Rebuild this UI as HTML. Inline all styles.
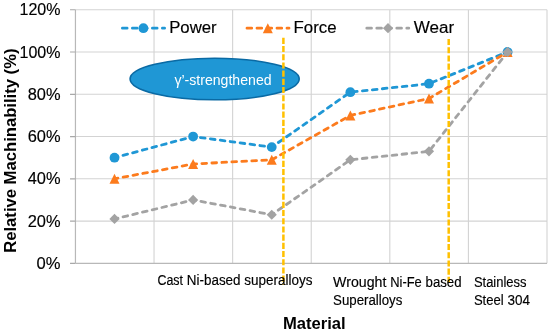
<!DOCTYPE html>
<html lang="en"><head><meta charset="utf-8"><title>Relative Machinability</title>
<style>html,body{margin:0;padding:0;background:#fff}svg{display:block}text{font-family:"Liberation Sans",sans-serif;fill:#000}.c{font-size:13.8px;stroke:#000;stroke-width:.15px}.w{font-size:14px;fill:#fff}.b{font-weight:bold;font-size:16px}.t{font-size:16px;stroke:#000;stroke-width:.15px}</style></head><body>
<svg width="550" height="332" viewBox="0 0 550 332">
<rect width="550" height="332" fill="#fff"/>
<path d="M75.45 221.08H547.0M75.45 178.82H547.0M75.45 136.55H547.0M75.45 94.28H547.0M75.45 52.02H547.0M75.45 9.75H547.0M154.04 9.75V263.35M232.63 9.75V263.35M311.23 9.75V263.35M389.82 9.75V263.35M468.41 9.75V263.35M547.00 9.75V263.35" stroke="#d3d3d3" stroke-width="1.1" fill="none"/>
<path d="M75.45 9.75V263.35M75.45 263.35H547.0" stroke="#b8b8b8" stroke-width="1.2" fill="none"/>
<path d="M70.05 263.35H75.45M70.05 221.08H75.45M70.05 178.82H75.45M70.05 136.55H75.45M70.05 94.28H75.45M70.05 52.02H75.45M70.05 9.75H75.45" stroke="#a8a8a8" stroke-width="1.2" fill="none"/>
<text class="t" x="36.57" y="268.90" textLength="23.93" lengthAdjust="spacingAndGlyphs">0%</text>
<text class="t" x="27.67" y="226.63" textLength="32.83" lengthAdjust="spacingAndGlyphs">20%</text>
<text class="t" x="27.67" y="184.37" textLength="32.83" lengthAdjust="spacingAndGlyphs">40%</text>
<text class="t" x="27.67" y="142.10" textLength="32.83" lengthAdjust="spacingAndGlyphs">60%</text>
<text class="t" x="27.67" y="99.83" textLength="32.83" lengthAdjust="spacingAndGlyphs">80%</text>
<text class="t" x="19.57" y="57.57">100%</text>
<text class="t" x="19.57" y="15.30">120%</text>
<ellipse cx="214.65" cy="79" rx="84.55" ry="20.8" fill="#1f97d5" stroke="#0a6aa4" stroke-width="1.6"/>
<text class="w" x="174.4" y="85" textLength="97.2" lengthAdjust="spacingAndGlyphs">γ’-strengthened</text>
<polyline points="114.50,157.68 193.12,136.55 271.74,147.12 350.36,92.17 428.98,83.72 507.60,52.02" fill="none" stroke="#1f97d5" stroke-width="2.8" stroke-dasharray="4.7 5.3" stroke-linecap="round" stroke-dashoffset="1.2" stroke-linejoin="round"/>
<circle cx="114.50" cy="157.68" r="4.9" fill="#1f97d5"/>
<circle cx="193.12" cy="136.55" r="4.9" fill="#1f97d5"/>
<circle cx="271.74" cy="147.12" r="4.9" fill="#1f97d5"/>
<circle cx="350.36" cy="92.17" r="4.9" fill="#1f97d5"/>
<circle cx="428.98" cy="83.72" r="4.9" fill="#1f97d5"/>
<circle cx="507.60" cy="52.02" r="4.9" fill="#1f97d5"/>
<polyline points="114.50,178.82 193.12,164.02 271.74,159.80 350.36,115.42 428.98,98.51 507.60,52.02" fill="none" stroke="#fc7b1d" stroke-width="2.8" stroke-dasharray="4.7 5.3" stroke-linecap="round" stroke-dashoffset="1.2" stroke-linejoin="round"/>
<path d="M114.50 173.82L119.50 183.82H109.50Z" fill="#fc7b1d"/>
<path d="M193.12 159.02L198.12 169.02H188.12Z" fill="#fc7b1d"/>
<path d="M271.74 154.80L276.74 164.80H266.74Z" fill="#fc7b1d"/>
<path d="M350.36 110.42L355.36 120.42H345.36Z" fill="#fc7b1d"/>
<path d="M428.98 93.51L433.98 103.51H423.98Z" fill="#fc7b1d"/>
<path d="M507.60 47.02L512.60 57.02H502.60Z" fill="#fc7b1d"/>
<polyline points="114.50,218.97 193.12,199.95 271.74,214.74 350.36,159.80 428.98,151.34 507.60,52.02" fill="none" stroke="#a3a3a3" stroke-width="2.8" stroke-dasharray="4.7 5.3" stroke-linecap="round" stroke-dashoffset="1.2" stroke-linejoin="round"/>
<path d="M114.50 213.87L119.60 218.97L114.50 224.07L109.40 218.97Z" fill="#a3a3a3"/>
<path d="M193.12 194.85L198.22 199.95L193.12 205.05L188.02 199.95Z" fill="#a3a3a3"/>
<path d="M271.74 209.64L276.84 214.74L271.74 219.84L266.64 214.74Z" fill="#a3a3a3"/>
<path d="M350.36 154.70L355.46 159.80L350.36 164.90L345.26 159.80Z" fill="#a3a3a3"/>
<path d="M428.98 146.24L434.08 151.34L428.98 156.44L423.88 151.34Z" fill="#a3a3a3"/>
<path d="M507.60 46.92L512.70 52.02L507.60 57.12L502.50 52.02Z" fill="#a3a3a3"/>
<path d="M283.4 37.8V284.8" stroke="#ffc000" stroke-width="2.5" stroke-dasharray="6.1 2.1" fill="none"/>
<path d="M448.7 39V283.8" stroke="#ffc000" stroke-width="2.5" stroke-dasharray="6.1 2.1" fill="none"/>
<path d="M122.4 28.2H164.6" stroke="#1f97d5" stroke-width="2.8" stroke-dasharray="4.7 5.3" stroke-linecap="round" fill="none"/>
<circle cx="143.40" cy="28.20" r="4.9" fill="#1f97d5"/>
<text class="t" x="169.2" y="33.3" textLength="47.5" lengthAdjust="spacingAndGlyphs">Power</text>
<path d="M247.0 28.2H289.0" stroke="#fc7b1d" stroke-width="2.8" stroke-dasharray="4.7 5.3" stroke-linecap="round" fill="none"/>
<path d="M267.80 23.20L272.80 33.20H262.80Z" fill="#fc7b1d"/>
<text class="t" x="293.5" y="33.3" textLength="43.0" lengthAdjust="spacingAndGlyphs">Force</text>
<path d="M366.79999999999995 28.2H408.8" stroke="#a3a3a3" stroke-width="2.8" stroke-dasharray="4.7 5.3" stroke-linecap="round" fill="none"/>
<path d="M388.00 23.10L393.10 28.20L388.00 33.30L382.90 28.20Z" fill="#a3a3a3"/>
<text class="t" x="413.7" y="33.3" textLength="40.4" lengthAdjust="spacingAndGlyphs">Wear</text>
<text class="c" x="157.40" y="285" textLength="25.59" lengthAdjust="spacingAndGlyphs">Cast</text>
<text class="c" x="186.79" y="285" textLength="53.77" lengthAdjust="spacingAndGlyphs">Ni-based</text>
<text class="c" x="244.37" y="285" textLength="68.26" lengthAdjust="spacingAndGlyphs">superalloys</text>
<text class="c" x="333.10" y="287" textLength="53.29" lengthAdjust="spacingAndGlyphs">Wrought</text>
<text class="c" x="390.19" y="287" textLength="31.56" lengthAdjust="spacingAndGlyphs">Ni-Fe</text>
<text class="c" x="425.55" y="287" textLength="36.00" lengthAdjust="spacingAndGlyphs">based</text>
<text class="c" x="333.10" y="305" textLength="69.29" lengthAdjust="spacingAndGlyphs">Superalloys</text>
<text class="c" x="473.90" y="287" textLength="52.66" lengthAdjust="spacingAndGlyphs">Stainless</text>
<text class="c" x="473.90" y="305" textLength="29.83" lengthAdjust="spacingAndGlyphs">Steel</text>
<text class="c" x="507.53" y="305" textLength="22.48" lengthAdjust="spacingAndGlyphs">304</text>
<text class="b" x="283" y="328.7" textLength="62.7" lengthAdjust="spacingAndGlyphs">Material</text>
<text class="b" transform="translate(15.5 252.8) rotate(-90)" textLength="204.3" lengthAdjust="spacingAndGlyphs">Relative Machinability (%)</text>
</svg></body></html>
